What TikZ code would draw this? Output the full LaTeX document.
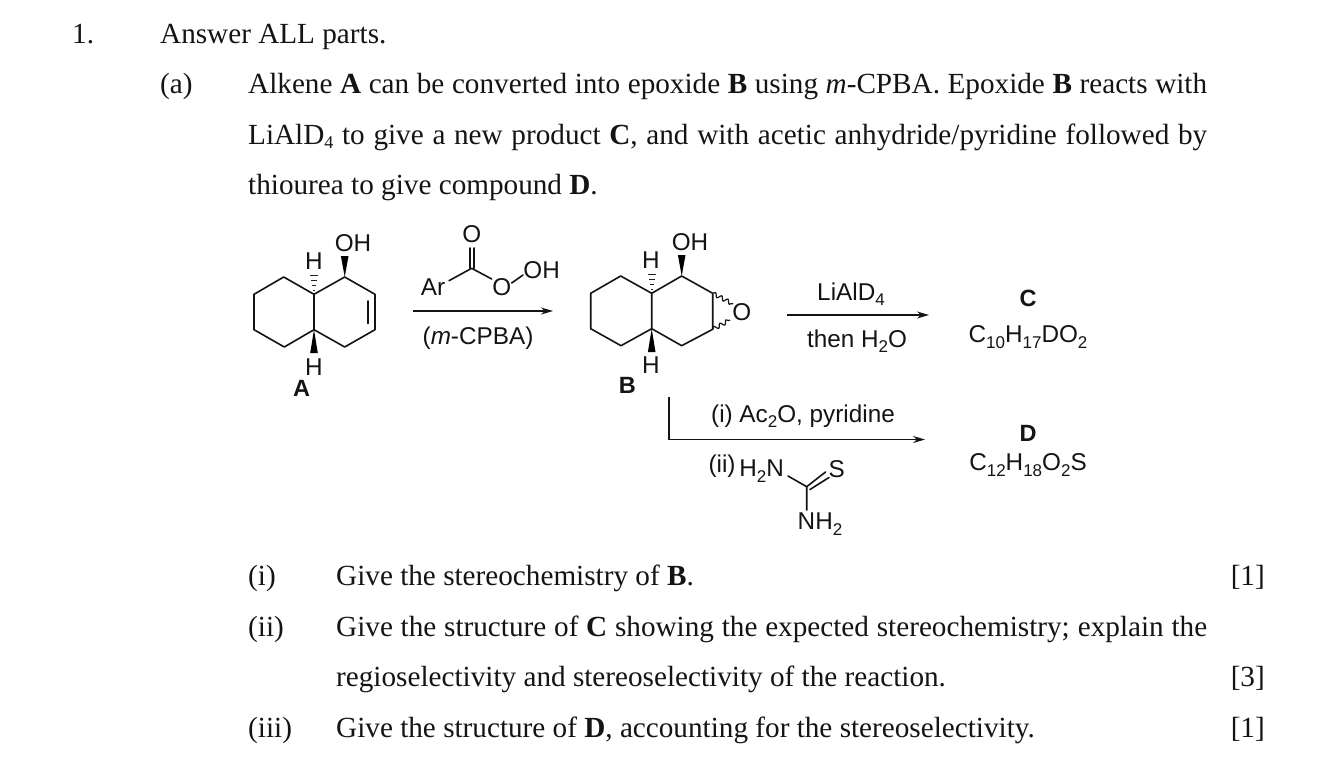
\documentclass[tikz,border=0pt]{standalone}
\usepackage{fontspec}
\setmainfont{Liberation Serif}
\newfontfamily\arialf{Liberation Sans}
\usetikzlibrary{arrows.meta,calc,decorations.pathmorphing}
\newcommand{\sbs}[1]{\raisebox{-0.22em}{\fontsize{17}{17}\selectfont #1}}
\newcommand{\tsb}[1]{\raisebox{-0.12em}{\fontsize{18}{18}\selectfont #1}}
\newcommand{\Jline}[2]{\makebox[#1pt][s]{#2}}
\tikzset{
  x=1pt,y=-1pt,
  txt/.style={anchor=base west,inner sep=0pt,font=\fontsize{29.2}{29.2}\selectfont,text=black!92},
  mark r/.style={anchor=base east,inner sep=0pt,font=\fontsize{29.2}{29.2}\selectfont,text=black!92},
  lab/.style={inner sep=0pt,font=\arialf\fontsize{24.3}{24.3}\selectfont,text=black!92},
  blab/.style={inner sep=0pt,font=\arialf\bfseries\fontsize{23.5}{23.5}\selectfont,text=black!92},
  bond/.style={draw=black!92,line width=1.6pt,line join=round,line cap=round},
  rxn/.style={draw=black!92,line width=1.6pt,-{Stealth[length=12pt,width=7pt]}},
  wavy/.style={draw=black!92,line width=1.2pt,decorate,decoration={snake,amplitude=2pt,segment length=7pt,post length=0pt,pre length=0pt}}
}
\newcommand{\wedgeup}[2]{\fill (#1) -- ($(#2)+(-3.8,0)$) -- ($(#2)+(3.8,0)$) -- cycle;}
\newcommand{\hashup}[1]{\foreach \d/\w in {4/0.8,9/1.8,14/2.8,19/3.8}{\draw[line width=1.2pt,black!88] ($(#1)+(-\w,-\d)$) -- ($(#1)+(\w,-\d)$);}}
\begin{document}
\begin{tikzpicture}
\useasboundingbox (0,0) rectangle (1323,757);
\fill[white] (0,0) rectangle (1323,757);
% question text
\node[txt] (n1) at (72,44) {1.};
\node[txt] (t1) at (160,44) {Answer ALL parts.};
\node[txt] (pa) at (160,94) {(a)};
\node[txt] (l1) at (248,94) {\Jline{959}{Alkene \textbf{A} can be converted into epoxide \textbf{B} using \textit{m}-CPBA. Epoxide \textbf{B} reacts with}};
\node[txt] (l2) at (248,145) {\Jline{959}{LiAlD\tsb{4} to give a new product \textbf{C}, and with acetic anhydride/pyridine followed by}};
\node[txt] (l3) at (248,194.5) {thiourea to give compound \textbf{D}.};
\node[txt] (pi) at (248,585) {(i)};
\node[txt] (qi) at (336,585) {Give the stereochemistry of \textbf{B}.};
\node[mark r] (mi) at (1265,585) {[1]};
\node[txt] (pii) at (248,636) {(ii)};
\node[txt] (qii) at (336,636) {\Jline{871}{Give the structure of \textbf{C} showing the expected stereochemistry; explain the}};
\node[txt] (qiib) at (336,686) {regioselectivity and stereoselectivity of the reaction.};
\node[mark r] (mii) at (1265,686) {[3]};
\node[txt] (piii) at (248,737) {(iii)};
\node[txt] (qiii) at (336,737) {Give the structure of \textbf{D}, accounting for the stereoselectivity.};
\node[mark r] (miii) at (1265,737) {[1]};
% compound A
\coordinate (a1) at (283.7,277);
\coordinate (a2) at (254,294.3);
\coordinate (a3) at (254,329.7);
\coordinate (a4) at (284.3,347);
\coordinate (a5) at (314,329.7);
\coordinate (a6) at (314,294.3);
\coordinate (a7) at (344.7,277);
\coordinate (a8) at (375,294.3);
\coordinate (a9) at (375,329.7);
\coordinate (a10) at (344.7,347);
\coordinate (a8i) at (368,301);
\coordinate (a9i) at (368,323.5);
\draw[bond] (a6)--(a1)--(a2)--(a3)--(a4)--(a5)--(a6)--(a7)--(a8)--(a9)--(a10)--(a5);
\draw[bond] (a8i)--(a9i);
\coordinate (aw1) at (344.7,256);
\coordinate (aw2) at (314,353);
\wedgeup{a7}{aw1}
\wedgeup{a5}{aw2}
\hashup{a6}
\node[lab] (aoh) at (353,243) {OH};
\node[lab] (aht) at (314,261) {H};
\node[lab] (ahb) at (314,367) {H};
\node[blab] (la) at (301.7,388) {A};
% m-CPBA
\node[lab] (ar) at (433,287) {Ar};
\coordinate (cc) at (471.7,268.3);
\node[lab] (oc) at (471.7,234) {O};
\node[lab] (os) at (501.7,287) {O};
\node[lab] (oh2) at (541.7,270) {OH};
\coordinate (arb) at (449,280.7);
\coordinate (osb) at (491.7,279);
\coordinate (oo1) at (511.7,283);
\coordinate (oo2) at (523,275);
\coordinate (dbl) at (469.7,268.3);
\coordinate (dbr) at (473.9,268.3);
\coordinate (dtl) at (469.7,248);
\coordinate (dtr) at (473.9,248);
\draw[bond] (arb) -- (cc) -- (osb);
\draw[bond] (oo1) -- (oo2);
\draw[bond] (dbl) -- (dtl);
\draw[bond] (dbr) -- (dtr);
\coordinate (r1s) at (413,311);
\coordinate (r1e) at (553,311);
\draw[rxn] (r1s) -- (r1e);
\node[lab] (mc) at (478,338) {(\textit{m}-CPBA)};
% compound B
\coordinate (b1) at (620.7,276);
\coordinate (b2) at (590.7,293.3);
\coordinate (b3) at (590.7,328.7);
\coordinate (b4) at (621,345.7);
\coordinate (b5) at (651.7,328.7);
\coordinate (b6) at (651.7,293.3);
\coordinate (b7) at (681.7,276);
\coordinate (b8) at (712.7,293.3);
\coordinate (b9) at (712.7,329.3);
\coordinate (b10) at (681.7,345.7);
\draw[bond] (b6)--(b1)--(b2)--(b3)--(b4)--(b5)--(b6)--(b7)--(b8)--(b9)--(b10)--(b5);
\coordinate (bw1) at (681.7,255);
\coordinate (bw2) at (651.7,352);
\wedgeup{b7}{bw1}
\wedgeup{b5}{bw2}
\hashup{b6}
\node[lab] (boh) at (690,242) {OH};
\node[lab] (bht) at (651,260) {H};
\node[lab] (bhb) at (651,365) {H};
\node[blab] (lb) at (627.3,385.7) {B};
\node[lab] (bo) at (741.7,312) {O};
\coordinate (bo1) at (733,304);
\coordinate (bo2) at (730,320);
\draw[wavy] (b8) -- (bo1);
\draw[wavy] (b9) -- (bo2);
% to C
\node[lab] (lialdd) at (851,294) {LiAlD\sbs{4}};
\coordinate (r2s) at (787,315);
\coordinate (r2e) at (929,315);
\draw[rxn] (r2s) -- (r2e);
\node[lab] (tw) at (857,341) {then H\sbs{2}O};
\node[blab] (lc) at (1028,298) {C};
\node[lab] (fc) at (1028,337) {C\sbs{10}H\sbs{17}DO\sbs{2}};
% to D
\coordinate (r3s) at (668.7,397);
\coordinate (r3c) at (668.7,439.5);
\coordinate (r3e) at (925,439.5);
\draw[rxn] (r3s) -- (r3c) -- (r3e);
\node[lab] (ac) at (803,416) {(i) Ac\sbs{2}O, pyridine};
\node[lab] (ii) at (722,466) {(ii)};
\node[lab] (h2n) at (761.7,471) {H\sbs{2}N};
\node[lab] (ts) at (836.7,469) {S};
\coordinate (tc) at (806.7,486.7);
\node[lab] (nh2) at (820,524) {NH\sbs{2}};
\coordinate (tn1) at (788,476);
\coordinate (ts1) at (825.5,472);
\coordinate (ts2) at (829,477.5);
\coordinate (tc2) at (810,489.5);
\coordinate (tn2) at (806.7,510);
\draw[bond] (tn1) -- (tc) -- (tn2);
\draw[bond] (tc) -- (ts1);
\draw[bond] (tc2) -- (ts2);
\node[blab] (ld) at (1028,433) {D};
\node[lab] (fd) at (1028,465) {C\sbs{12}H\sbs{18}O\sbs{2}S};
\end{tikzpicture}
\end{document}
